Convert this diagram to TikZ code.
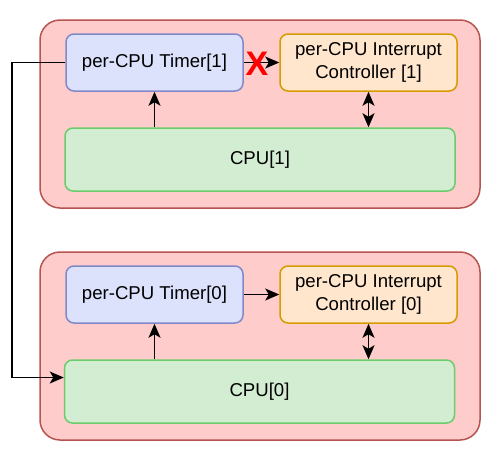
\documentclass[tikz,border=0pt]{standalone}
\usepackage{fontspec}
\setmainfont{Liberation Sans}
\usepackage{tikz}
\usetikzlibrary{positioning,arrows.meta}

\definecolor{coreFill}{HTML}{FFCCCC}
\definecolor{coreLine}{HTML}{B85450}
\definecolor{timerFill}{HTML}{DCE2FC}
\definecolor{timerLine}{HTML}{8288C8}
\definecolor{icFill}{HTML}{FFE6CC}
\definecolor{icLine}{HTML}{D79B00}
\definecolor{cpuFill}{HTML}{D3EDD3}
\definecolor{cpuLine}{HTML}{6CCB6C}

\begin{document}
\begin{tikzpicture}[x=1pt, y=-1pt, line width=1.5pt,
        font=\fontsize{18.6}{23}\selectfont, >={Stealth[length=14pt, width=12pt, inset=3.5pt]}]
        \tikzstyle{core}=[draw=coreLine, fill=coreFill, rounded corners=20pt, minimum width=440pt, minimum height=188pt]
        \tikzstyle{timer}=[draw=timerLine, fill=timerFill, rounded corners=8pt, minimum width=177pt, minimum height=57pt]
        \tikzstyle{ic}=[draw=icLine, fill=icFill, rounded corners=8pt, minimum width=177pt, minimum height=57pt, align=center]
        \tikzstyle{cpu}=[draw=cpuLine, fill=cpuFill, rounded corners=8pt, minimum width=390pt, minimum height=63pt]

        \useasboundingbox (0,0) rectangle (503,453);

        % core 1
        \node   (core1)  [core]  at (260,114)   {};
        \node   (timer1) [timer] at (154.5,62.5) {per-CPU Timer[1]};
        \node   (ic1)    [ic]    at (368.5,62.5) {per-CPU Interrupt\\Controller [1]};
        \node   (cpu1)   [cpu]   at (260,159.5)  {CPU[1]};

        % core 0
        \node   (core0)  [core]  at (260,346)   {};
        \node   (timer0) [timer] at (154.5,294.5) {per-CPU Timer[0]};
        \node   (ic0)    [ic]    at (368.5,294.5) {per-CPU Interrupt\\Controller [0]};
        \node   (cpu0)   [cpu]   at (259.5,391.5) {CPU[0]};

        \draw[->] (timer1.east) -- (ic1.west);
        \node   (cut) [text=red, font=\fontsize{34}{34}\selectfont\bfseries] at (257,64) {X};
        \draw[->] (cpu1.north -| timer1.south) -- (timer1.south);
        \draw[<->] (ic1.south) -- (ic1.south |- cpu1.north);

        \draw[->] (timer0.east) -- (ic0.west);
        \draw[->] (cpu0.north -| timer0.south) -- (timer0.south);
        \draw[<->] (ic0.south) -- (ic0.south |- cpu0.north);

        \coordinate (turn) at (12,62.5);
        \draw[->] (timer1.west) -- (turn) |- ([yshift=14pt]cpu0.west);
\end{tikzpicture}
\end{document}
